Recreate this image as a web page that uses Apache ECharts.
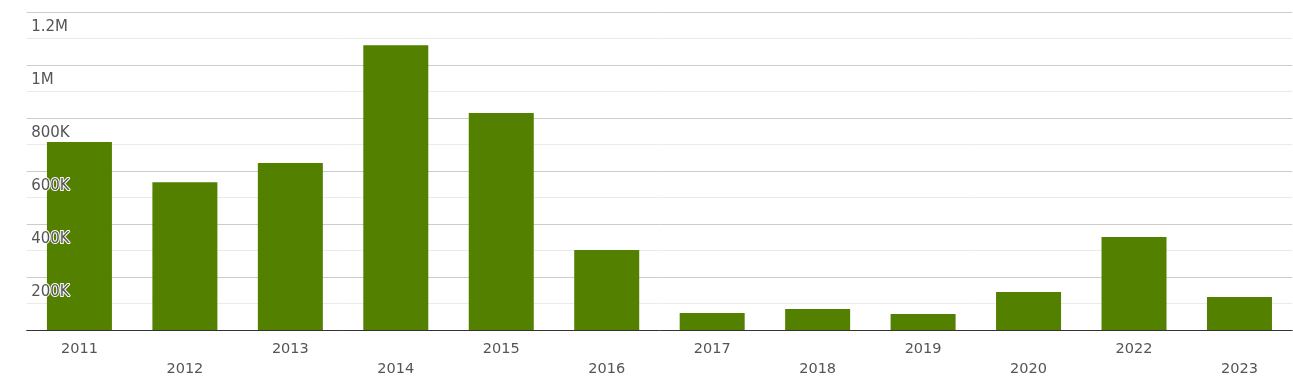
<!DOCTYPE html>
<html><head><meta charset="utf-8">
<script src="https://cdn.jsdelivr.net/npm/echarts@6/dist/echarts.min.js"></script>
<style>html,body{margin:0;padding:0;background:#fff}#c{width:1293px;height:384px}</style>
</head><body><div id="c"></div>
<script>
const categories = ['2011','2012','2013','2014','2015','2016','2017','2018','2019','2020','2022','2023'];
const values = [709000, 558000, 630000, 1075000, 819000, 302000, 64000, 79000, 60000, 143000, 351000, 125000];
const yTickLabels = {0:'', 200000:'200K', 400000:'400K', 600000:'600K', 800000:'800K', 1000000:'1M', 1200000:'1.2M'};

const chart = echarts.init(document.getElementById('c'), null, {renderer:'canvas'});
const font = 'DejaVu Sans, sans-serif';
chart.setOption({
  animation: false,
  grid: {left: 26.7, right: 0.8, top: 12, bottom: 54, containLabel: false},
  xAxis: {
    type: 'category', data: categories,
    axisLine: {lineStyle: {color: '#333', width: 1}},
    axisTick: {show: false},
    axisLabel: {
      interval: 0, margin: 9, color: '#555', fontFamily: font, fontSize: 14.5, lineHeight: 20,
      formatter: (v, i) => (i % 2 === 1 ? '\n' + v : v)
    }
  },
  yAxis: [{
    type: 'value', min: 0, max: 1200000, interval: 200000,
    axisLine: {show: false}, axisTick: {show: false}, axisLabel: {show: false},
    splitLine: {lineStyle: {color: '#cccccc', width: 1}},
    minorTick: {show: false, splitNumber: 2},
    minorSplitLine: {show: true, lineStyle: {color: '#ebebeb', width: 1}}
  }, {
    type: 'value', min: 0, max: 1200000, interval: 200000, position: 'left', z: 10,
    axisLine: {show: false}, axisTick: {show: false}, splitLine: {show: false},
    axisLabel: {
      inside: true, margin: 4.5, color: '#555', fontFamily: font, fontSize: 15,
      verticalAlign: 'top', padding: [8, 0, 0, 0],
      textBorderColor: '#fff', textBorderWidth: 2,
      formatter: v => yTickLabels[v] !== undefined ? yTickLabels[v] : ''
    }
  }],
  series: [{
    type: 'bar', data: values, barWidth: 65, yAxisIndex: 0,
    itemStyle: {color: '#548000'}
  }]
});
</script></body></html>
